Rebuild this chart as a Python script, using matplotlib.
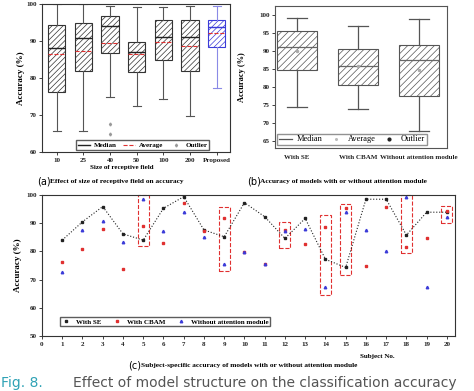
import numpy as np
import matplotlib.pyplot as plt
from matplotlib.lines import Line2D
from matplotlib.patches import Rectangle

# ---- (a) effect of receptive field size (box stats) ----
field_labels = ["10", "25", "40", "50", "100", "200", "Proposed"]
field_whislo = [65.8, 65.8, 74.8, 72.4, 74.4, 69.6, 77.4]
field_q1 = [76.1, 81.9, 86.7, 81.5, 85.0, 81.9, 88.3]
field_med = [88.2, 90.7, 94.1, 86.9, 91.0, 91.2, 93.7]
field_mean = [86.4, 87.3, 89.5, 86.5, 89.6, 88.6, 92.1]
field_q3 = [94.3, 94.8, 96.7, 89.6, 95.7, 95.8, 95.8]
field_whishi = [100.0, 100.0, 99.5, 99.3, 99.2, 99.5, 99.5]
field_fliers = [[], [], [67.6, 64.8], [], [], [], []]

# ---- (b) with / without attention module (box stats) ----
att_labels = ["With SE", "With CBAM", "Without attention module"]
att_whislo = [74.4, 73.9, 67.7]
att_q1 = [84.8, 80.5, 77.6]
att_med = [91.1, 85.7, 87.6]
att_mean = [89.9, 85.7, 84.6]
att_q3 = [95.5, 90.6, 91.6]
att_whishi = [99.2, 97.0, 98.9]

# ---- (c) subject-specific accuracy ----
subjects = list(range(1, 21))
acc_se = [84.0, 90.5, 95.9, 86.2, 84.0, 95.3, 99.4, 87.6, 85.2, 97.3,
          92.3, 84.6, 91.7, 77.2, 74.3, 98.5, 98.5, 85.8, 93.9, 93.9]
acc_cbam = [76.1, 81.0, 87.9, 73.9, 89.1, 82.9, 97.0, 87.4, 92.0, 79.9,
            75.4, 87.6, 82.5, 88.5, 95.3, 74.8, 95.9, 81.7, 84.6, 94.3]
acc_none = [72.8, 87.6, 90.9, 83.2, 98.7, 87.4, 93.9, 85.2, 75.4, 79.9,
            75.4, 87.4, 87.9, 67.5, 94.1, 87.6, 80.3, 99.2, 67.5, 92.3]
# dashed highlight boxes
hl_subjects = [5, 9, 12, 14, 15, 18, 20]
hl_low = [81.9, 73.2, 81.1, 64.5, 71.6, 79.6, 90.0]
hl_high = [100.0, 95.6, 90.5, 92.9, 96.8, 100.0, 96.1]

plt.rcParams['font.family'] = ['Liberation Serif', 'DejaVu Serif']
plt.rcParams['hatch.linewidth'] = 0.5

W, H = 474, 391
fig = plt.figure(figsize=(W / 100, H / 100), dpi=100)


def px_axes(l, t, r, b):
    return fig.add_axes([l / W, 1 - b / H, (r - l) / W, (b - t) / H])


def style_axes(ax, col='#333'):
    for s in ax.spines.values():
        s.set_linewidth(0.8)
        s.set_color(col)
    ax.tick_params(labelsize=5, length=2, width=0.6, pad=2, colors='#222')
    for lab in ax.get_xticklabels() + ax.get_yticklabels():
        lab.set_fontweight('bold')


# ================= (a) =================
ax1 = px_axes(42, 4, 230, 152)
stats_a = []
for i in range(len(field_labels)):
    stats_a.append(dict(whislo=field_whislo[i], q1=field_q1[i], med=field_med[i],
                        mean=field_mean[i], q3=field_q3[i], whishi=field_whishi[i],
                        fliers=field_fliers[i]))
pos_a = np.arange(1, len(field_labels) + 1)
bp = ax1.bxp(stats_a, positions=pos_a, widths=0.64, patch_artist=True,
             showmeans=True, meanline=True, capwidths=0.3,
             boxprops=dict(facecolor='white', edgecolor='#333', hatch='//////', lw=0.8),
             medianprops=dict(color='#222', lw=1.0),
             meanprops=dict(color='#e03030', ls='--', lw=0.8),
             whiskerprops=dict(color='#555', lw=0.8),
             capprops=dict(color='#555', lw=0.8),
             flierprops=dict(marker='d', ms=1.5, mfc='#999', mec='#999'))
blue = '#3b3bd8'
bp['boxes'][-1].set_edgecolor(blue)
for art in bp['whiskers'][-2:] + bp['caps'][-2:]:
    art.set_color('#8a8ae6')
bp['medians'][-1].set_color(blue)
ax1.set_xlim(0.45, 7.5)
ax1.set_ylim(60, 100)
ax1.set_yticks([60, 70, 80, 90, 100])
ax1.set_xticks(pos_a)
ax1.set_xticklabels(field_labels)
style_axes(ax1)
ax1.set_ylabel("Accuracy (%)", fontsize=6.5, fontweight='bold')
ax1.yaxis.set_label_coords(-0.09, 0.5)
ax1.set_xlabel("Size of receptive field", fontsize=5, fontweight='bold')
ax1.xaxis.set_label_coords(0.425, -0.085)
h_a = [Line2D([], [], color='#222', lw=1.0),
       Line2D([], [], color='#e03030', ls='--', lw=0.8),
       Line2D([], [], ls='none', marker='d', ms=1.5, color='#999')]
ax1.legend(h_a, ["Median", "Average", "Outlier"], ncol=3, loc='lower left',
           bbox_to_anchor=(0.18, 0.015), prop=dict(size=5, weight='bold'),
           frameon=True, fancybox=False, edgecolor='#333', handlelength=1.8,
           borderpad=0.25, columnspacing=0.9, handletextpad=0.5, borderaxespad=0)

# ================= (b) =================
ax2 = px_axes(275, 6, 447, 148)
stats_b = []
for i in range(len(att_labels)):
    stats_b.append(dict(whislo=att_whislo[i], q1=att_q1[i], med=att_med[i],
                        mean=att_mean[i], q3=att_q3[i], whishi=att_whishi[i],
                        fliers=[]))
pos_b = np.arange(1, len(att_labels) + 1)
ax2.bxp(stats_b, positions=pos_b, widths=0.65, patch_artist=True,
        showmeans=True, capwidths=0.33,
        boxprops=dict(facecolor='white', edgecolor='#555', hatch='/////', lw=0.8),
        medianprops=dict(color='#666', lw=0.9),
        meanprops=dict(marker='o', ms=1.5, mfc='#aaa', mec='#aaa'),
        whiskerprops=dict(color='#555', lw=0.9),
        capprops=dict(color='#555', lw=0.9))
ax2.set_xlim(0.64, 3.46)
ax2.set_ylim(63.0, 102.5)
ax2.set_yticks([65, 70, 75, 80, 85, 90, 95, 100])
ax2.set_xticks(pos_b)
ax2.set_xticklabels(att_labels)
style_axes(ax2, '#555')
ax2.tick_params(axis='x', length=0, pad=5)
ax2.set_ylabel("Accuracy (%)", fontsize=6, fontweight='bold')
ax2.yaxis.set_label_coords(-0.17, 0.5)
h_b = [Line2D([], [], color='#555', lw=0.9),
       Line2D([], [], ls='none', marker='o', ms=1.2, color='#bbb'),
       Line2D([], [], ls='none', marker='o', ms=2, color='#222')]
ax2.legend(h_b, ["Median", "Average", "Outlier"], ncol=3, loc='lower left',
           bbox_to_anchor=(0.012, 0.02), prop=dict(size=6),
           frameon=True, fancybox=False, edgecolor='#777', handlelength=1.6,
           borderpad=0.2, columnspacing=0.8, handletextpad=0.6, borderaxespad=0)

# ================= (c) =================
ax3 = px_axes(42, 195, 455, 336)
ax3.plot(subjects, acc_se, ls=':', lw=0.8, color='#222', marker='s', ms=1.8,
         label="With SE")
ax3.plot(subjects, acc_cbam, ls='none', color='#e03030', marker='s', ms=1.6,
         label="With CBAM")
ax3.plot(subjects, acc_none, ls='none', color='#3b3bd8', marker='^', ms=1.8,
         label="Without attention module")
for s, lo, hi in zip(hl_subjects, hl_low, hl_high):
    ax3.add_patch(Rectangle((s - 0.27, lo), 0.54, hi - lo, fill=False,
                            ec='#e03030', ls='--', lw=0.8, clip_on=False))
ax3.set_xlim(0, 20.4)
ax3.set_ylim(50, 100)
ax3.set_xticks(range(0, 21))
ax3.set_yticks([50, 60, 70, 80, 90, 100])
style_axes(ax3)
ax3.set_ylabel("Accuracy (%)", fontsize=6.5, fontweight='bold')
ax3.yaxis.set_label_coords(-0.048, 0.5)
ax3.set_xlabel("Subject No.", fontsize=5, fontweight='bold')
ax3.xaxis.set_label_coords(0.813, -0.13)
h_c = [Line2D([], [], ls='none', marker='s', ms=1.8, color='#222'),
       Line2D([], [], ls='none', marker='s', ms=1.6, color='#e03030'),
       Line2D([], [], ls='none', marker='^', ms=1.8, color='#3b3bd8')]
ax3.legend(h_c, ["With SE", "With CBAM", "Without attention module"], ncol=3,
           loc='lower left', bbox_to_anchor=(0.044, 0.07),
           prop=dict(size=5, weight='bold'), frameon=True, fancybox=False,
           edgecolor='#333', handlelength=1.2, borderpad=0.2, columnspacing=1.6,
           handletextpad=0.9, borderaxespad=0)

# ================= captions =================
fig.text(37 / W, 1 - 181 / H, "(a)", fontsize=7, family='DejaVu Sans', va='center')
fig.text(50 / W, 1 - 181 / H, "Effect of size of receptive field on accuracy",
         fontsize=5.3, fontweight='bold', va='center')
fig.text(247 / W, 1 - 181 / H, "(b)", fontsize=7, family='DejaVu Sans', va='center')
fig.text(260 / W, 1 - 181 / H, "Accuracy of models with or without attention module",
         fontsize=5.3, fontweight='bold', va='center')
fig.text(128 / W, 1 - 365 / H, "(c)", fontsize=7, family='DejaVu Sans', va='center')
fig.text(141 / W, 1 - 365 / H,
         "Subject-specific accuracy of models with or without attention module",
         fontsize=5.3, fontweight='bold', va='center')
fig.text(1 / W, 1 - 387 / H, "Fig. 8.", fontsize=10, family='DejaVu Sans',
         color='#2fa2b5', va='baseline')
fig.text(73 / W, 1 - 387 / H,
         "Effect of model structure on the classification accuracy",
         fontsize=10, family='DejaVu Sans', color='#555', va='baseline')

fig.savefig("out.png", dpi=100)
